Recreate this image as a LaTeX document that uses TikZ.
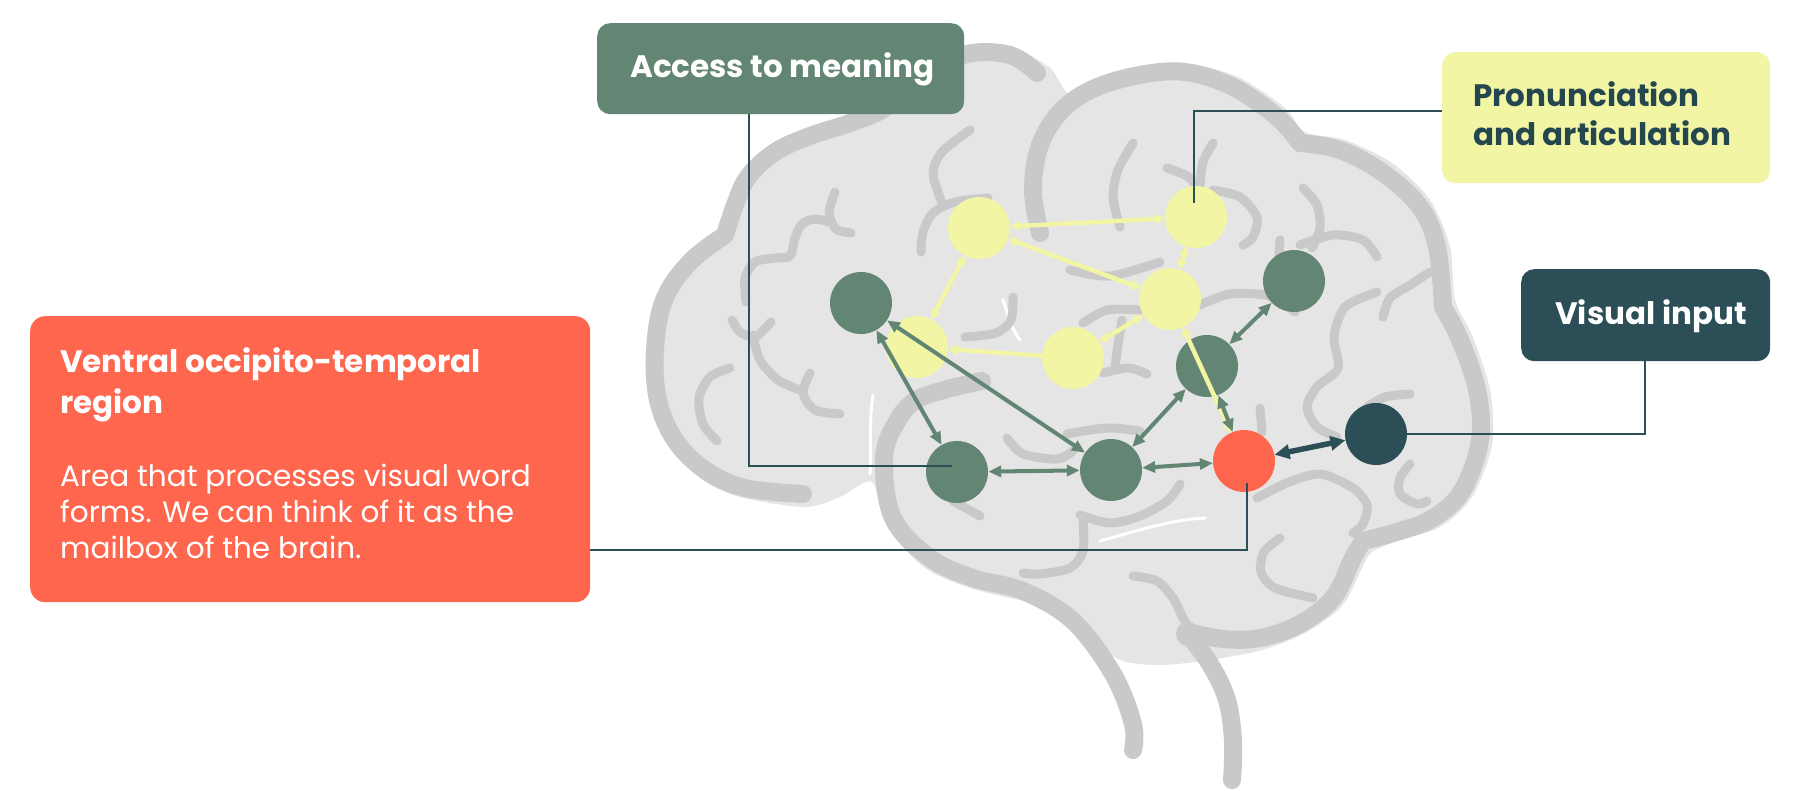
\documentclass[tikz,border=0pt]{standalone}
\usepackage{fontspec}
\setmainfont{Poppins}
\usetikzlibrary{arrows.meta,calc}
\definecolor{bfill}{HTML}{E5E5E5}
\definecolor{bline}{HTML}{C9C9C9}
\definecolor{ynode}{HTML}{F2F5A4}
\definecolor{gnode}{HTML}{638674}
\definecolor{onode}{HTML}{FF664E}
\definecolor{dnode}{HTML}{2C4E57}
\definecolor{dtext}{HTML}{24464F}
\begin{document}
\begin{tikzpicture}[x=1pt,y=-1pt,
  outl/.style={draw=bline,line width=18pt,line cap=round,line join=round},
  sulc/.style={draw=bline,line width=9pt,line cap=round,line join=round},
  wgap/.style={draw=white,line width=3pt,line cap=round},
  dot/.style={circle,minimum size=62pt,inner sep=0pt},
  rbox/.style={rounded corners=13pt,anchor=north west,inner sep=0pt},
  hd/.style={font=\fontsize{31}{36}\selectfont\bfseries,anchor=base west,inner sep=0pt},
  bd/.style={font=\fontsize{29.5}{36}\selectfont,anchor=base west,inner sep=0pt,text=white},
  gar/.style={draw=gnode,line width=4pt,{Triangle[length=13pt,width=11pt]}-{Triangle[length=13pt,width=11pt]}},
  yar/.style={draw=ynode,line width=4.5pt,{Triangle[length=9pt,width=10pt]}-{Triangle[length=9pt,width=10pt]}},
  yarone/.style={draw=ynode,line width=4.5pt,-{Triangle[length=9pt,width=10pt]}},
  dar/.style={draw=dnode,line width=5.5pt,{Triangle[length=15pt,width=14pt]}-{Triangle[length=15pt,width=14pt]}},
  conn/.style={draw=dnode,line width=2pt}]
\useasboundingbox (0,0) rectangle (1800,791);

% ---------- brain silhouette ----------
\fill[bfill] plot[smooth cycle,tension=0.5] coordinates {
 (652,380) (655,320) (680,266) (718,236) (735,185) (772,150) (822,128) (872,110)
 (920,70) (968,50) (1012,48) (1050,68) (1070,95) (1100,82) (1140,68) (1190,64)
 (1240,78) (1285,108) (1305,132) (1345,140) (1392,163) (1430,200) (1450,247)
 (1455,300) (1472,335) (1490,390) (1492,445) (1472,497) (1440,527) (1400,540)
 (1372,552) (1362,568) (1342,606) (1305,633) (1262,650) (1210,660) (1160,665)
 (1120,660) (1090,635) (1060,604) (1020,600) (970,588) (925,568) (888,528)
 (872,482) (840,497) (805,507) (740,497) (700,478) (668,440)};

% white gaps
\draw[wgap] (1100,541) .. controls (1140,530) and (1170,520) .. (1205,518);
\draw[wgap] (873,395) .. controls (868,430) and (872,455) .. (870,474);
\draw[wgap] (1003,300) .. controls (1008,315) and (1012,330) .. (1020,340);

% ---------- sulci ----------
\draw[sulc] plot[smooth] coordinates {(970,130) (942,152) (933,172) (938,192) (943,205)};
\draw[sulc] plot[smooth] coordinates {(988,198) (955,202) (933,213) (923,232) (921,252)};
\draw[sulc] plot[smooth] coordinates {(835,192) (829,213) (836,229) (851,233)};
\draw[sulc] plot[smooth] coordinates {(746,302) (745,278) (755,262) (775,258) (790,256) (795,238) (802,224) (815,219) (829,222)};
\draw[sulc] plot[smooth] coordinates {(732,320) (740,332) (755,337) (771,322)};
\draw[sulc] plot[smooth] coordinates {(753,335) (760,360) (778,380) (800,390)};
\draw[sulc] plot[smooth] coordinates {(810,373) (803,393) (815,410) (840,414)};
\draw[sulc] plot[smooth] coordinates {(730,368) (710,377) (699,398) (703,424) (717,441)};
\draw[sulc] plot[smooth] coordinates {(1013,297) (1011,320) (996,333) (965,337)};
\draw[sulc] plot[smooth] coordinates {(1083,323) (1107,310) (1140,310)};
\draw[sulc] plot[smooth] coordinates {(1122,320) (1118,345) (1115,367)};
\draw[sulc] plot[smooth] coordinates {(1103,373) (1128,368) (1147,374)};
\draw[sulc] plot[smooth] coordinates {(1133,143) (1118,170) (1113,197) (1120,227)};
\draw[sulc] plot[smooth] coordinates {(1070,270) (1110,276) (1160,262)};
\draw[sulc] plot[smooth] coordinates {(1167,168) (1187,176) (1198,188)};
\draw[sulc] plot[smooth] coordinates {(1213,143) (1203,162) (1200,185)};
\draw[sulc] plot[smooth] coordinates {(1213,190) (1240,197) (1257,217) (1253,237) (1243,245)};
\draw[sulc] plot[smooth] coordinates {(1303,188) (1317,205) (1320,228) (1312,248)};
\draw[sulc] plot[smooth] coordinates {(1280,240) (1278,267)};
\draw[sulc] plot[smooth] coordinates {(1300,245) (1333,235) (1363,240) (1377,257)};
\draw[sulc] plot[smooth] coordinates {(1383,317) (1390,298) (1410,285) (1430,272)};
\draw[sulc] plot[smooth] coordinates {(1377,292) (1345,307) (1334,337) (1338,368) (1317,387) (1307,407) (1317,427) (1337,437)};
\draw[sulc] plot[smooth] coordinates {(1410,394) (1385,397) (1367,407)};
\draw[sulc] plot[smooth] coordinates {(1260,408) (1262,432)};
\draw[sulc] plot[smooth] coordinates {(1257,498) (1287,483) (1320,474) (1353,488) (1367,505) (1363,524) (1353,533)};
\draw[sulc] plot[smooth] coordinates {(1280,538) (1264,552) (1261,572) (1275,588) (1313,598)};
\draw[sulc] plot[smooth] coordinates {(1133,576) (1157,581) (1173,598) (1183,618) (1190,630)};
\draw[sulc] plot[smooth] coordinates {(1410,464) (1400,478) (1400,494) (1417,504) (1427,501)};
\draw[sulc] plot[smooth] coordinates {(1080,515) (1110,523) (1140,516) (1167,501) (1180,484)};
\draw[sulc] plot[smooth] coordinates {(1083,520) (1083,551) (1070,568) (1040,574) (1023,573)};
\draw[sulc] plot[smooth] coordinates {(1007,438) (1023,454) (1057,459) (1073,451)};
\draw[sulc] plot[smooth] coordinates {(953,501) (980,516)};
\draw[sulc] plot[smooth] coordinates {(1067,434) (1107,428) (1140,431)};
\draw[sulc] plot[smooth] coordinates {(1200,305) (1230,294) (1270,296) (1295,312)};

% ---------- thick outlines ----------
\draw[outl] plot[smooth,tension=0.6] coordinates {(1037,73) (1010,55) (967,54) (925,75) (885,108) (850,123) (810,136) (775,152) (748,177) (735,205) (725,235)};
\draw[outl] plot[smooth,tension=0.6] coordinates {(725,235) (690,262) (664,300) (655,350) (658,400) (675,440) (705,470) (745,488) (803,494)};
\draw[outl] plot[smooth,tension=0.6] coordinates {(1040,233) (1033,190) (1040,145) (1062,110) (1095,88) (1140,75) (1185,72) (1233,87) (1277,117) (1300,143)};
\draw[outl] plot[smooth,tension=0.6] coordinates {(1300,143) (1340,150) (1383,173) (1420,207) (1437,247) (1443,307)};
\draw[outl] plot[smooth,tension=0.6] coordinates {(1443,307) (1460,340) (1477,390) (1480,440) (1462,491) (1433,518) (1400,531) (1363,541)};
\draw[outl] plot[smooth,tension=0.6] coordinates {(1363,541) (1353,558) (1333,598) (1300,624) (1260,638) (1223,639) (1188,632)};
\draw[outl] plot[smooth,tension=0.6] coordinates {(982,381) (920,398) (895,425) (884,460) (893,518) (930,558) (973,578) (1023,591) (1073,621) (1113,674) (1133,724) (1133,750)};
\draw[outl] plot[smooth,tension=0.6] coordinates {(1186,632) (1210,664) (1227,700) (1233,741) (1232,780)};
\fill[bline] (1188,634) circle (12pt);

% ---------- network nodes ----------
\node[dot,fill=ynode] (y1) at (979,228) {};
\node[dot,fill=ynode] (y2) at (1196,217) {};
\node[dot,fill=ynode] (y3) at (1170,299) {};
\node[dot,fill=ynode] (y4) at (1073,358) {};
\node[dot,fill=ynode] (y5) at (917,347) {};
\node[dot,fill=gnode] (g5) at (861,303) {};
\node[dot,fill=gnode] (g3) at (957,472) {};
\node[dot,fill=gnode] (g4) at (1111,470) {};
\node[dot,fill=gnode] (g2) at (1207,366) {};
\node[dot,fill=gnode] (g1) at (1294,281) {};
\node[dot,fill=onode] (or) at (1244,461) {};
\node[dot,fill=dnode] (dk) at (1376,434) {};

% ---------- yellow edges ----------
\draw[yar] (y1) -- (y2);
\draw[yar] (y1) -- (y3);
\draw[yar] (y1) -- (y5);
\draw[yarone] (y4) -- (y5);
\draw[yar] (y4) -- (y3);
\draw[yar] (y2) -- (y3);
\draw[yar] (y3) -- (or);

% ---------- green edges ----------
\draw[gar] (g5) -- (g3);
\draw[gar] (g5) -- (g4);
\draw[gar] (g3) -- (g4);
\draw[gar] (g4) -- (g2);
\draw[gar] (g4) -- (or);
\draw[gar] (g2) -- (g1);
\draw[gar] (g2) -- (or);
\draw[dar] (or) -- (dk);

% ---------- boxes ----------
\node[rbox,fill=gnode,minimum width=367pt,minimum height=91pt] (accbox) at (597,23) {};
\node[rbox,fill=ynode,minimum width=328pt,minimum height=131pt] (probox) at (1442,52) {};
\node[rbox,fill=dnode,minimum width=249pt,minimum height=92pt] (visbox) at (1521,269) {};
\node[rbox,fill=onode,rounded corners=15pt,minimum width=560pt,minimum height=286pt] (vbox) at (30,316) {};

% ---------- connectors ----------
\coordinate (accfoot) at (749,114);
\coordinate (accend) at (952,466);
\draw[conn] (accfoot) |- (accend);
\coordinate (proout) at (1442,111);
\coordinate (proend) at (1194,203);
\draw[conn] (proout) -| (proend);
\coordinate (visfoot) at (1645,361);
\draw[conn] (visfoot) |- (dk.east);
\coordinate (vout) at (590,550);
\coordinate (vend) at (1247,483);
\draw[conn] (vout) -| (vend);

% ---------- texts ----------
\node[hd,text=white] (acct) at (630,78) {Access to meaning};
\node[hd,text=dtext] (prot1) at (1473,107) {Pronunciation};
\node[hd,text=dtext] (prot2) at (1473,146) {and articulation};
\node[hd,text=white,anchor=base] (vist) at (1651,325) {Visual input};
\node[hd,text=white] (vt1) at (60,373) {Ventral occipito-temporal};
\node[hd,text=white] (vt2) at (60,414) {region};
\node[bd] (vb1) at (60,486) {Area that processes visual word};
\node[bd] (vb2) at (60,522) {forms. We can think of it as the};
\node[bd] (vb3) at (60,558) {mailbox of the brain.};
\end{tikzpicture}
\end{document}
